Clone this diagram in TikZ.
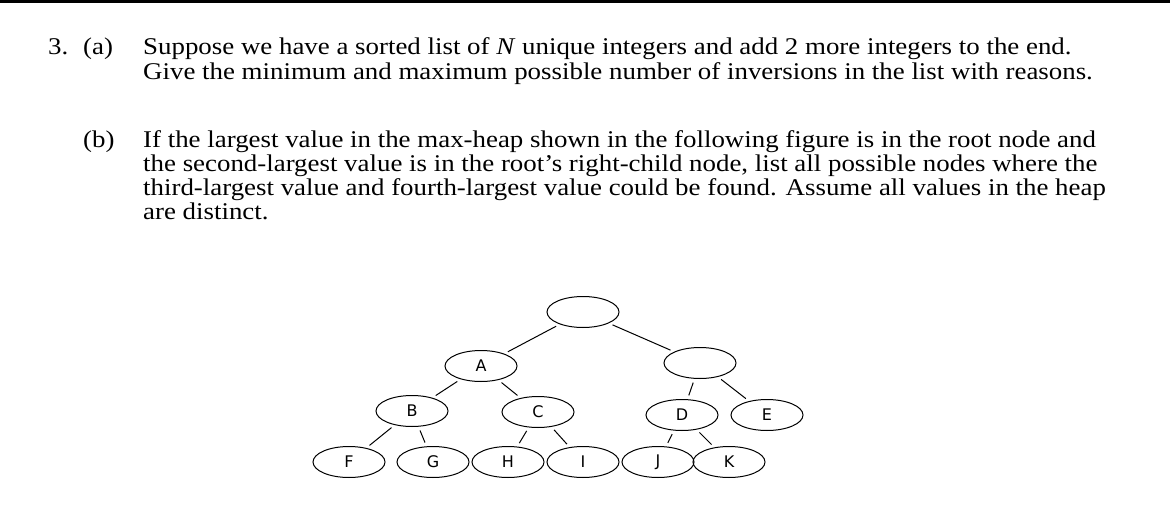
\documentclass[tikz,border=0pt]{standalone}
\usepackage{fontspec}
\usepackage{graphicx}
\setmainfont{Liberation Serif}
\newfontfamily\treefont{DejaVu Sans}
\usetikzlibrary{shapes.geometric}
\newcommand{\wline}[1]{\scalebox{1.12}[1]{#1}}
\begin{document}
\begin{tikzpicture}[x=1pt,y=-1pt,
  txt/.style={anchor=base west,inner sep=0pt,font=\fontsize{24}{26}\selectfont},
  hn/.style={draw,ellipse,minimum width=72pt,minimum height=31pt,inner sep=0pt,line width=1pt,font=\treefont\fontsize{16}{18}\selectfont},
  ed/.style={line width=1pt,shorten >=4pt,shorten <=4pt}]
\useasboundingbox (0,0) rectangle (1170,527);
\fill (0,0) rectangle (1170,3);
\node[txt] (n3) at (48,55) {\wline{3.}};
\node[txt] (la) at (83,55) {\wline{(a)}};
\node[txt] (a1) at (143,55) {\wline{Suppose we have a sorted list of \textit{N} unique integers and add 2 more integers to the end.}};
\node[txt] (a2) at (143,80) {\wline{Give the minimum and maximum possible number of inversions in the list with reasons.}};
\node[txt] (lb) at (83,147) {\wline{(b)}};
\node[txt] (b1) at (143,147) {\wline{If the largest value in the max-heap shown in the following figure is in the root node and}};
\node[txt] (b2) at (143,171) {\wline{the second-largest value is in the root’s right-child node, list all possible nodes where the}};
\node[txt] (b3) at (143,195) {\wline{third-largest value and fourth-largest value could be found. Assume all values in the heap}};
\node[txt] (b4) at (143,219) {\wline{are distinct.}};
\node[hn] (R) at (583,312) {};
\node[hn] (A) at (481,366) {A};
\node[hn] (R2) at (700,363) {};
\node[hn] (B) at (412,411) {B};
\node[hn] (C) at (538,412) {C};
\node[hn] (D) at (682,415) {D};
\node[hn] (E) at (767,415) {E};
\node[hn] (F) at (349,462) {F};
\node[hn] (G) at (433,462) {G};
\node[hn] (H) at (508,462) {H};
\node[hn] (I) at (583,462) {I};
\node[hn] (J) at (658,462) {J};
\node[hn] (K) at (729,462) {K};
\draw[ed] (R)--(A); \draw[ed] (R)--(R2);
\draw[ed] (A)--(B); \draw[ed] (A)--(C);
\draw[ed] (R2)--(D); \draw[ed] (R2)--(E);
\draw[ed] (B)--(F); \draw[ed] (B)--(G);
\draw[ed] (C)--(H); \draw[ed] (C)--(I);
\draw[ed] (D)--(J); \draw[ed] (D)--(K);
\end{tikzpicture}
\end{document}
